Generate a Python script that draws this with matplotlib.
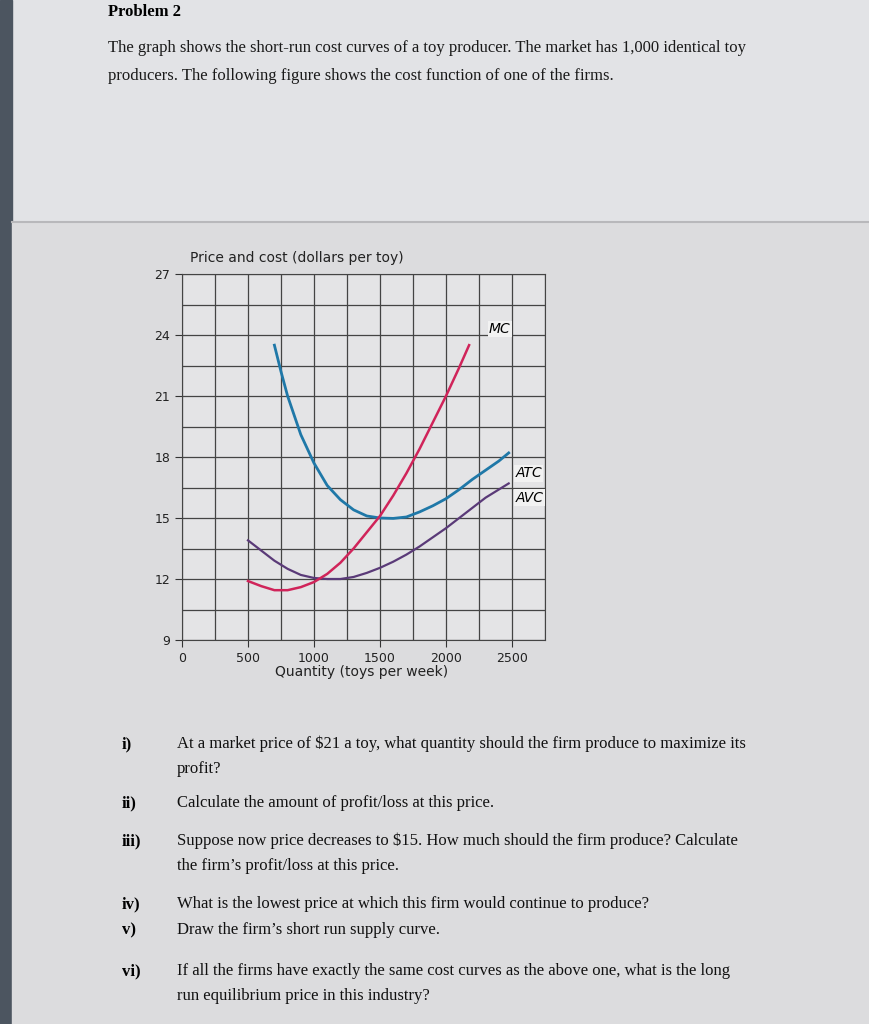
import matplotlib.pyplot as plt
import matplotlib.patches as patches

W, H = 869, 1024

# curve readings (quantity, dollars per toy)
atc_q = [700, 750, 800, 900, 1000, 1100, 1200, 1300, 1400, 1500, 1600, 1700, 1800, 1900, 2000, 2100, 2200, 2300, 2400, 2475]
atc_p = [23.5, 22.2, 21.0, 19.1, 17.7, 16.6, 15.9, 15.4, 15.1, 15.0, 14.98, 15.05, 15.3, 15.6, 15.95, 16.4, 16.9, 17.35, 17.8, 18.2]
avc_q = [500, 600, 700, 800, 900, 1000, 1100, 1200, 1300, 1400, 1500, 1600, 1700, 1800, 1900, 2000, 2100, 2200, 2300, 2400, 2475]
avc_p = [13.9, 13.4, 12.9, 12.5, 12.2, 12.05, 12.0, 12.0, 12.1, 12.3, 12.55, 12.85, 13.2, 13.6, 14.05, 14.5, 15.0, 15.5, 16.0, 16.4, 16.7]
mc_q = [500, 600, 700, 800, 900, 1000, 1100, 1200, 1300, 1400, 1500, 1600, 1700, 1800, 1900, 2000, 2100, 2175]
mc_p = [11.9, 11.65, 11.45, 11.45, 11.6, 11.85, 12.25, 12.8, 13.5, 14.3, 15.1, 16.1, 17.2, 18.4, 19.7, 21.0, 22.4, 23.5]

x_ticks = [0, 500, 1000, 1500, 2000, 2500]
y_ticks = [9, 12, 15, 18, 21, 24, 27]

intro = [
    "The graph shows the short-run cost curves of a toy producer. The market has 1,000 identical toy",
    "producers. The following figure shows the cost function of one of the firms.",
]
questions = [
    ("i)", ["At a market price of $21 a toy, what quantity should the firm produce to maximize its", "profit?"], 744),
    ("ii)", ["Calculate the amount of profit/loss at this price."], 803),
    ("iii)", ["Suppose now price decreases to $15. How much should the firm produce? Calculate", "the firm\u2019s profit/loss at this price."], 841),
    ("iv)", ["What is the lowest price at which this firm would continue to produce?"], 904),
    ("v)", ["Draw the firm\u2019s short run supply curve."], 930),
    ("vi)", ["If all the firms have exactly the same cost curves as the above one, what is the long", "run equilibrium price in this industry?"], 971),
]

fig = plt.figure(figsize=(W / 100, H / 100), dpi=100)
fig.patch.set_facecolor("#e2e3e6")
fig.patches.append(patches.Rectangle((0, 0), 12 / W, 1, transform=fig.transFigure, color="#4c5560", zorder=0))
fig.patches.append(patches.Rectangle((12 / W, 0), 1, 1 - 222 / H, transform=fig.transFigure, color="#dcdcde", zorder=0))
fig.lines.append(plt.Line2D([12 / W, 1], [1 - 222 / H] * 2, transform=fig.transFigure, color="#b8b8bb", lw=1.5))

serif = "Liberation Serif"
fs = 12.0
fig.text(108 / W, 1 - 12 / H, "Problem 2", family=serif, weight="bold", fontsize=fs, va="center")
for i, line in enumerate(intro):
    fig.text(108 / W, 1 - (48 + 28 * i) / H, line, family=serif, fontsize=fs, va="center", color="#1a1a1a")
for num, lines, y in questions:
    fig.text(122 / W, 1 - y / H, num, family=serif, weight="bold", fontsize=fs, va="center")
    for j, line in enumerate(lines):
        fig.text(177 / W, 1 - (y + 25 * j) / H, line, family=serif, fontsize=fs, va="center", color="#111111")

ax = fig.add_axes([182 / W, 1 - 640 / H, (545 - 182) / W, (640 - 274) / H])
ax.set_zorder(5)
ax.set_facecolor("#e4e4e6")
ax.set_xlim(0, 2750)
ax.set_ylim(9, 27)
ax.set_xticks(x_ticks)
ax.set_yticks(y_ticks)
ax.set_xticks(range(0, 2751, 250), minor=True)
ax.set_yticks([9 + 1.5 * k for k in range(13)], minor=True)
ax.grid(True, which="both", color="#444444", lw=0.9)
ax.tick_params(which="major", labelsize=9, length=5, color="#333333", labelcolor="#222222")
ax.tick_params(which="minor", length=0)
for s in ax.spines.values():
    s.set_color("#444444")

ax.plot(atc_q, atc_p, color="#1f78a8", lw=2)
ax.plot(avc_q, avc_p, color="#5a3a78", lw=1.6)
ax.plot(mc_q, mc_p, color="#d0245a", lw=1.8)

box = dict(facecolor="#f2f2f2", edgecolor="none", pad=1)
ax.text(2325, 24.1, "MC", style="italic", fontsize=10, bbox=box)
ax.text(2525, 17.0, "ATC", style="italic", fontsize=10, bbox=box)
ax.text(2525, 15.8, "AVC", style="italic", fontsize=10, bbox=box)

fig.text(190 / W, 1 - 258 / H, "Price and cost (dollars per toy)", fontsize=10, va="center", color="#222222")
fig.text(362 / W, 1 - 672 / H, "Quantity (toys per week)", fontsize=10, va="center", ha="center", color="#222222")

fig.savefig("out.png", dpi=100, facecolor=fig.get_facecolor())
